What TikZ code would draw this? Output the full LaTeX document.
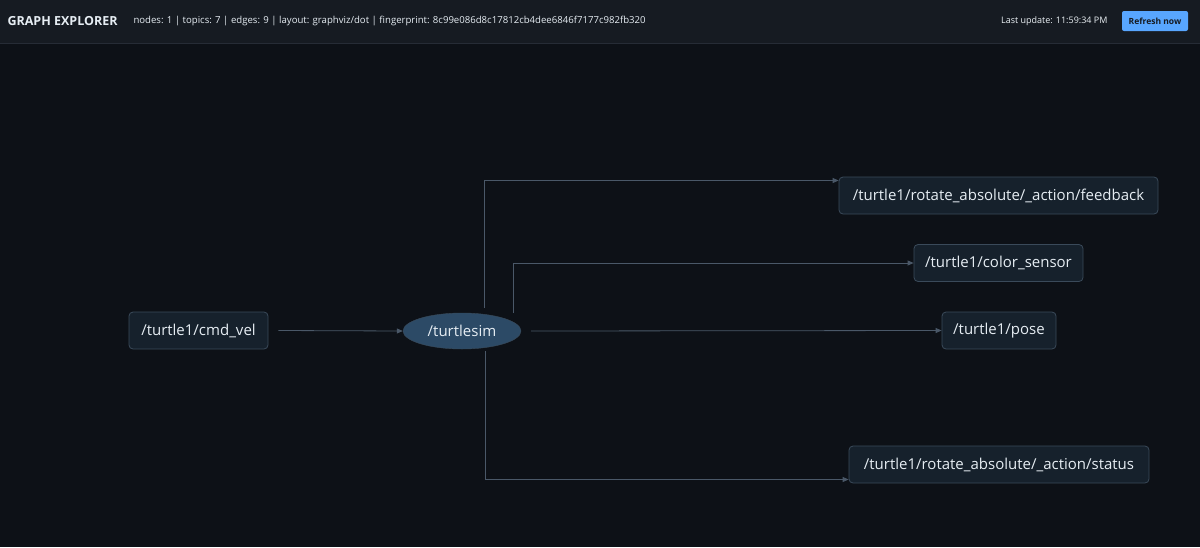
\documentclass[tikz,border=0pt]{standalone}
\usepackage{fontspec}
\setmainfont{Open Sans}
\usetikzlibrary{shapes.geometric,arrows.meta}
\definecolor{bgdark}{HTML}{0D1117}
\definecolor{bgbar}{HTML}{161B22}
\definecolor{barline}{HTML}{262C36}
\definecolor{topicfill}{HTML}{16212C}
\definecolor{topicline}{HTML}{3A4A5A}
\definecolor{nodefill}{HTML}{2C4A66}
\definecolor{edgecol}{HTML}{4A5868}
\definecolor{btnblue}{HTML}{58A6FF}
\definecolor{txtlight}{HTML}{E6EDF3}
\tikzset{
  topic/.style={draw=topicline, fill=topicfill, rounded corners=4pt, line width=0.8pt,
    text=txtlight, font=\fontsize{15}{17}\selectfont, minimum height=37pt, inner xsep=0pt},
  rosnode/.style={ellipse, draw=topicline, fill=nodefill, text=txtlight,
    font=\fontsize{15}{17}\selectfont, minimum width=118pt, minimum height=36pt, inner sep=0pt},
  link/.style={draw=edgecol, line width=0.8pt, -{Triangle[length=6pt,width=5pt]}}
}
\begin{document}
\begin{tikzpicture}[x=1pt,y=-1pt]
		\fill[bgdark] (0,0) rectangle (1200,547);
		\useasboundingbox (0,0) rectangle (1200,547);
		\fill[bgbar] (0,0) rectangle (1200,43);
		\draw[barline] (0,43.5) -- (1200,43.5);
		\node[anchor=west, text=txtlight, font=\fontsize{12.5}{14}\selectfont\bfseries] (title) at (4,21) {GRAPH EXPLORER};
		\node[anchor=west, text=txtlight, font=\fontsize{9.6}{11}\selectfont] (stats) at (130,21) {nodes: 1 | topics: 7 | edges: 9 | layout: graphviz/dot | fingerprint: 8c99e086d8c17812cb4dee6846f7177c982fb320};
		\node[fill=btnblue, rounded corners=2pt, minimum width=66pt, minimum height=20pt, font=\fontsize{8.5}{10}\selectfont\bfseries, text=bgbar] (refresh) at (1155,21) {Refresh now};
		\node[anchor=east, text=txtlight!80, font=\fontsize{9}{10}\selectfont] (update) at (1111,21) {Last update: 11:59:34 PM};
		%
		\node[topic, minimum width=139pt] (cmdvel) at (198.5,330.5) {/turtle1/cmd\_vel};
		\node[rosnode] (sim) at (462,331) {/turtlesim};
		\node[topic, minimum width=319pt] (feedback) at (998.5,195.5) {/turtle1/rotate\_absolute/\_action/feedback};
		\node[topic, minimum width=169pt] (color) at (998.5,263) {/turtle1/color\_sensor};
		\node[topic, minimum width=114pt] (pose) at (999,330.5) {/turtle1/pose};
		\node[topic, minimum width=300pt] (status) at (999,464.5) {/turtle1/rotate\_absolute/\_action/status};
		%
		\draw[link] ([xshift=10pt]cmdvel.east) -- (sim.west);
		\draw[link] (484,308) |- ([yshift=15pt]feedback.west);
		\draw[link] (513,313) |- (color.west);
		\draw[link] (531,331) -- (pose.west);
		\draw[link] (485,351) |- ([yshift=-15pt]status.west);
\end{tikzpicture}
\end{document}
